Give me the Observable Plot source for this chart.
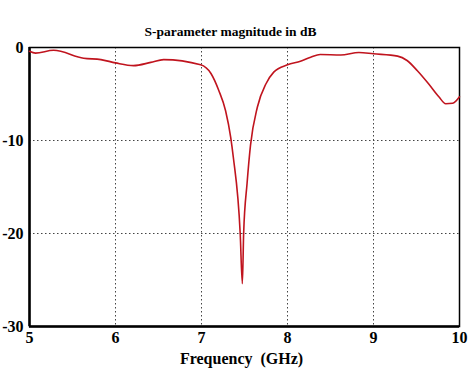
<!DOCTYPE html>
<html>
<head>
<meta charset="utf-8">
<script src="https://cdn.jsdelivr.net/npm/d3@7"></script>
<script src="https://cdn.jsdelivr.net/npm/@observablehq/plot@0.6"></script>
<style>
  html, body { margin: 0; padding: 0; background: #fff; }
</style>
</head>
<body>
<div id="chart"></div>
<script>
const freq = [5.00, 5.07, 5.28, 5.63, 5.83, 6.00, 6.21, 6.41, 6.56, 6.99, 7.11, 7.20, 7.28, 7.34, 7.37, 7.45, 7.475, 7.49, 7.53, 7.57, 7.65, 7.75, 7.84, 8.00, 8.15, 8.27, 8.38, 8.62, 8.83, 9.00, 9.28, 9.39, 9.51, 9.64, 9.76, 9.84, 9.92, 10.0];
const sdb  = [-0.4, -0.6, -0.3, -1.15, -1.3, -1.65, -1.95, -1.6, -1.3, -1.86, -2.8, -4.6, -6.8, -9.7, -11.8, -20, -25.4, -20, -14.6, -10.5, -6.4, -3.9, -2.65, -1.86, -1.47, -1.04, -0.75, -0.8, -0.54, -0.68, -0.93, -1.4, -2.5, -3.9, -5.3, -6.05, -6.0, -5.3];
const xTicks = [5, 6, 7, 8, 9, 10];
const yTicks = [0, -10, -20, -30];
const gridX = [6, 7, 8, 9];
const gridY = [-10, -20];
const titleText = "S-parameter magnitude in dB";
const xLabel = "Frequency  (GHz)";

const data = freq.map((f, i) => ({f, db: sdb[i]}));

const chart = Plot.plot({
  width: 474,
  height: 379,
  marginLeft: 29,
  marginRight: 15,
  marginTop: 47,
  marginBottom: 53,
  style: {fontFamily: "'Liberation Serif', 'Times New Roman', serif", fontWeight: "bold", fontSize: "15px", color: "#000", background: "#fff"},
  x: {domain: [5, 10]},
  y: {domain: [-30, 0]},
  marks: [
    Plot.ruleX(gridX, {stroke: "#444", strokeWidth: 1, strokeDasharray: "1.5,2.5"}),
    Plot.ruleY(gridY, {stroke: "#444", strokeWidth: 1, strokeDasharray: "1.5,2.5"}),
    Plot.frame({stroke: "#000", strokeWidth: 1.5}),
    Plot.ruleX([5], {stroke: "#000", strokeWidth: 2.5}),
    Plot.ruleY([-30], {stroke: "#000", strokeWidth: 2.5}),
    Plot.axisX({ticks: xTicks, tickSize: 0, tickPadding: 5, label: null, fontSize: 16, fontWeight: "bold", tickFormat: d => String(d)}),
    Plot.axisY({ticks: yTicks, tickSize: 0, tickPadding: 6, label: null, fontSize: 16, fontWeight: "bold", tickFormat: d => d === 0 ? "0" : "-" + Math.abs(d)}),
    Plot.line(data, {x: "f", y: "db", stroke: "#c0141e", strokeWidth: 1.6, curve: "monotone-x"}),
    Plot.text([titleText], {frameAnchor: "top", dy: -21, dx: -14, text: d => d, fontSize: 13.5, fontWeight: "bold"}),
    Plot.text([xLabel], {frameAnchor: "bottom", dy: 37, dx: -3, text: d => d, fontSize: 16, fontWeight: "bold"})
  ]
});
document.getElementById("chart").appendChild(chart);
</script>
</body>
</html>
